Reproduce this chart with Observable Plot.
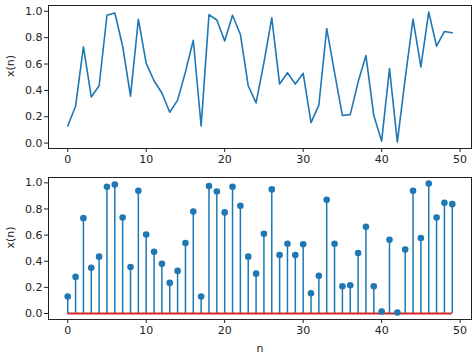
<!DOCTYPE html>
<html>
<head>
<meta charset="utf-8">
<script src="https://cdn.jsdelivr.net/npm/d3@7"></script>
<script src="https://cdn.jsdelivr.net/npm/@observablehq/plot@0.6"></script>
<style>
  html, body { margin: 0; padding: 0; background: #fff; }
  #wrap { position: relative; width: 474px; height: 355px; overflow: hidden; }
  #top, #bot { position: absolute; left: 0; }
  #top { top: 0; }
  #bot { top: 176px; background: #fff; }
  svg { font-family: "DejaVu Sans", sans-serif; }
</style>
</head>
<body>
<div id="wrap"><div id="top"></div><div id="bot"></div></div>
<script>
const n = d3.range(50);
const values = [
  0.13, 0.28, 0.73, 0.35, 0.435, 0.97, 0.987, 0.735, 0.356, 0.94,
  0.605, 0.473, 0.38, 0.234, 0.326, 0.54, 0.78, 0.13, 0.975, 0.934,
  0.774, 0.97, 0.824, 0.435, 0.305, 0.61, 0.95, 0.448, 0.534, 0.448,
  0.53, 0.155, 0.288, 0.87, 0.534, 0.209, 0.216, 0.463, 0.664, 0.209,
  0.015, 0.565, 0.008, 0.489, 0.94, 0.578, 0.995, 0.735, 0.847, 0.837
];
const xTicks = [0, 10, 20, 30, 40, 50];
const yTicks = [0, 0.2, 0.4, 0.6, 0.8, 1.0];
const xLabel = "n";
const yLabel = "x(n)";

const data = n.map((k, i) => ({n: k, v: values[i]}));
const blue = "#1f77b4";
const red = "#d62728";
const fmt = d3.format(".1f");
const fs = 11;

function axes(extraMarks, withXLabel) {
  return [
    Plot.axisX({ticks: xTicks, tickSize: 4, tickPadding: 3, fontSize: fs, label: null, color: "#222", stroke: "#222"}),
    Plot.axisY({ticks: yTicks, tickFormat: fmt, tickSize: 4, tickPadding: 2, fontSize: fs, label: null, color: "#222", stroke: "#222"}),
    ...extraMarks,
    Plot.frame({stroke: "#222", strokeWidth: 1}),
    Plot.text([yLabel], {frameAnchor: "left", dx: -38, rotate: -90, fontSize: fs, fill: "#222"}),
    withXLabel ? Plot.text([xLabel], {frameAnchor: "bottom", dy: 25, lineAnchor: "top", fontSize: fs, fill: "#222"}) : null
  ];
}

const topChart = Plot.plot({
  width: 474,
  height: 176,
  marginTop: 5,
  marginBottom: 28,
  marginLeft: 48,
  marginRight: 3,
  x: {domain: [-2.45, 51.45]},
  y: {domain: [-0.041, 1.044]},
  marks: axes([
    Plot.line(data, {x: "n", y: "v", stroke: blue, strokeWidth: 1.6})
  ], false)
});
document.getElementById("top").appendChild(topChart);

const botChart = Plot.plot({
  width: 474,
  height: 179,
  marginTop: 1,
  marginBottom: 36,
  marginLeft: 48,
  marginRight: 3,
  x: {domain: [-2.45, 51.45]},
  y: {domain: [-0.046, 1.041]},
  marks: axes([
    Plot.ruleX(data, {x: "n", y1: 0, y2: "v", stroke: blue, strokeWidth: 1.5}),
    Plot.ruleY([0], {x1: 0, x2: 49, stroke: red, strokeWidth: 1.8}),
    Plot.dot(data, {x: "n", y: "v", r: 3.3, fill: blue, stroke: "none"})
  ], true)
});
document.getElementById("bot").appendChild(botChart);
</script>
</body>
</html>
